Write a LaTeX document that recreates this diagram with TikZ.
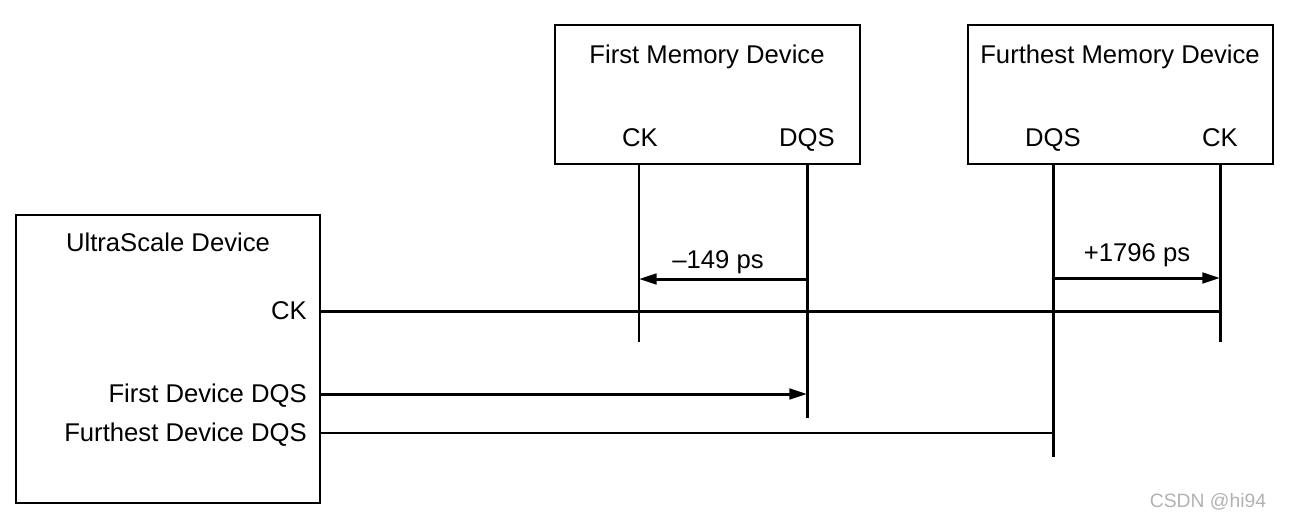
\documentclass[tikz,border=0pt]{standalone}
\usepackage{fontspec}
\setmainfont{Liberation Sans}
\usetikzlibrary{arrows.meta}
\begin{document}
\begin{tikzpicture}[x=0.02cm,y=-0.02cm,
  box/.style={draw,line width=1.3pt},
  lbl/.style={font=\fontsize{14.6}{16}\selectfont,inner sep=0pt,anchor=base},
  sig/.style={line width=1.7pt},
  thin/.style={line width=1.1pt},
  tip/.style={-{Triangle[length=10pt,width=6pt]}}]
\useasboundingbox (0,0) rectangle (1289,525);
% boxes
\draw[box] (16,215) rectangle (320,503);
\draw[box] (555,25) rectangle (860,164);
\draw[box] (968,25) rectangle (1273,164);
\node[lbl] (us) at (168,251) {UltraScale Device};
\node[lbl] (fm) at (707,63) {First Memory Device};
\node[lbl] (fu) at (1120,63) {Furthest Memory Device};
\node[lbl] (ck1) at (640,146) {CK};
\node[lbl] (dqs1) at (807,146) {DQS};
\node[lbl] (dqs2) at (1053,146) {DQS};
\node[lbl] (ck2) at (1220,146) {CK};
\node[lbl,anchor=base east] (ckl) at (307,319) {CK};
\node[lbl,anchor=base east] (fdl) at (307,402) {First Device DQS};
\node[lbl,anchor=base east] (fudl) at (307,441) {Furthest Device DQS};
% pins
\coordinate (a1) at (639,164); \coordinate (a2) at (639,342);
\coordinate (b1) at (807,164); \coordinate (b2) at (807,418);
\coordinate (c1) at (1053,164); \coordinate (c2) at (1053,457);
\coordinate (d1) at (1220,164); \coordinate (d2) at (1220,342);
\draw[sig] (a1) -- (a2);
\draw[sig] (b1) -- (b2);
\draw[sig] (c1) -- (c2);
\draw[sig] (d1) -- (d2);
% signals
\coordinate (s0) at (320,311); \coordinate (s1) at (1220,311);
\coordinate (f0) at (320,394); \coordinate (f1) at (807,394);
\coordinate (g0) at (320,433); \coordinate (g1) at (1053,433);
\draw[sig] (s0) -- (s1);
\draw[sig,tip] (f0) -- (f1);
\draw[thin] (g0) -- (g1);
% skews
\coordinate (m0) at (807,279); \coordinate (m1) at (639,279);
\coordinate (p0) at (1053,278); \coordinate (p1) at (1220,278);
\draw[sig,tip] (m0) -- (m1);
\draw[sig,tip] (p0) -- (p1);
\node[lbl] (ml) at (718,268) {\textendash149 ps};
\node[lbl] (pl) at (1137,261) {+1796 ps};
\node[font=\fontsize{11}{13}\selectfont,text=gray!60] (wm) at (1208,502) {CSDN @hi94};
\end{tikzpicture}
\end{document}
